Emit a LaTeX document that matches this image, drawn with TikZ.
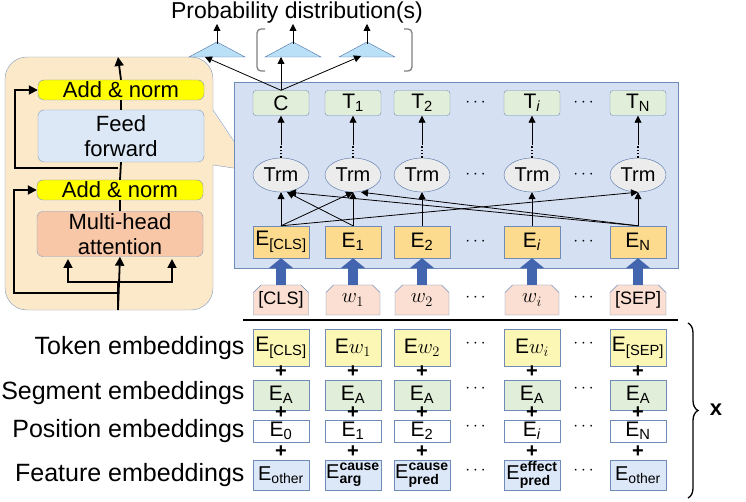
\documentclass[tikz,border=0pt]{standalone}
\usepackage{amsmath}
\usepackage{fontspec}
\setmainfont{Liberation Sans}
\usetikzlibrary{positioning,shapes.misc,shapes.geometric,arrows.meta,decorations.pathreplacing}
\definecolor{bgorange}{HTML}{FCE9C9}
\definecolor{bgblue}{HTML}{D6E0F3}
\definecolor{bord}{HTML}{4A6FA5}
\definecolor{ygreen}{HTML}{E1EED9}
\definecolor{eyel}{HTML}{FCDB8E}
\definecolor{tokc}{HTML}{FADFD2}
\definecolor{posc}{HTML}{FFFFFF}
\definecolor{featc}{HTML}{DCE8F7}
\definecolor{tokemb}{HTML}{FCF7B5}
\definecolor{tric}{HTML}{B9E0F7}
\definecolor{ffc}{HTML}{DCE8F6}
\definecolor{mhc}{HTML}{F7C7A8}
\definecolor{yel}{HTML}{FFFF00}
\tikzset{
  bx/.style={draw=bord!80, rectangle, minimum width=56pt, minimum height=30pt, inner sep=1pt, font=\fontsize{21}{23}\selectfont},
  tbox/.style={bx, rounded corners=3pt, fill=ygreen, minimum height=25pt},
  trm/.style={draw=bord, ellipse, fill=gray!15, minimum width=56pt, minimum height=34pt, inner sep=0pt, font=\fontsize{20}{22}\selectfont},
  ebox/.style={bx, fill=eyel, minimum height=32pt},
  tok/.style={draw=bord!80, chamfered rectangle, chamfered rectangle corners={north east,north west}, chamfered rectangle xsep=4pt, fill=tokc, minimum width=54pt, minimum height=30pt, inner sep=1pt, font=\fontsize{18}{20}\selectfont},
  lbl/.style={anchor=east, font=\fontsize{25}{27}\selectfont},
  plus/.style={font=\bfseries\fontsize{20}{20}\selectfont, inner sep=0pt},
  dts/.style={font=\fontsize{16}{16}\selectfont},
  lay/.style={draw=bord!70, rounded corners=6pt, minimum width=166pt, font=\fontsize{22}{25}\selectfont, align=center, inner sep=1pt},
  arr/.style={-{Triangle[length=7pt,width=7pt]}, line width=0.8pt},
  thk/.style={-{Triangle[length=9pt,width=9pt]}, line width=1.8pt},
  fat/.style={-{Triangle[length=10pt,width=24pt]}, line width=10pt, draw=bord!90!blue},
  ft/.style={bx, fill=featc, font=\fontsize{20}{22}\selectfont, inner sep=0pt},
}
\newcommand{\sub}[1]{\textsubscript{#1}}
\newcommand{\fe}[2]{E$^{\text{\bfseries #1}}_{\text{\bfseries #2}}$}
\begin{document}
\begin{tikzpicture}[x=1pt,y=-1pt]
        \useasboundingbox (0,0) rectangle (746,502);
        % transformer block
        \draw[bord!70, fill=bgorange, rounded corners=22pt] (5,57) rectangle (213,310);
        \fill[bgorange] (212,110) -- (254,171) -- (212,165) -- cycle;
        \draw[bord!70] (213,110) -- (254,171) -- (213,165);
        \node[lay, fill=yel, minimum height=20pt] (an1) at (121,90) {Add \& norm};
        \node[lay, fill=ffc, minimum height=52pt] (ff) at (121,136) {Feed\\forward};
        \node[lay, fill=yel, minimum height=20pt] (an2) at (120,190) {Add \& norm};
        \node[lay, fill=mhc, minimum height=45pt] (mh) at (120,234) {Multi-head\\attention};
        \coordinate (in) at (118,310);
        \coordinate (top) at (118,57);
        \draw[thk] (in) -- (118,282) -| (68,259);
        \draw[thk] (118,282) -| (172,259);
        \draw[thk] (in) -- (mh.south);
        \draw[thk] (118,293) -| (14,190) -- (an2.west);
        \draw[line width=1.8pt] (mh.north) -- (an2.south);
        \draw[line width=1.8pt] (an2.north) -- (ff.south);
        \draw[line width=1.8pt] (an1.south) -- (ff.north);
        \draw[thk] (118,168) -| (15,90) -- (an1.west);
        \draw[thk] (an1.north) -- (top);
        % BERT box
        \draw[bord!80, fill=bgblue] (234,82) rectangle (678,268);
        \node[tbox] (c) at (281,103) {C};
        \node[tbox] (t1) at (353,103) {T\sub{1}};
        \node[tbox] (t2) at (422,103) {T\sub{2}};
        \node[tbox] (ti) at (532,103) {T\sub{\textit{i}}};
        \node[tbox] (tn) at (638,103) {T\sub{N}};
        \foreach \n/\x in {c/281,t1/353,t2/422,ti/532,tn/638}{
          \node[trm] (r\n) at (\x,175) {Trm};
          \draw[arr] (\x,145) -- (\n.south);
          \draw[line width=1.4pt, dotted] (r\n.north) -- (\x,145);
        }
        \node[ebox] (ec) at (281,242) {E\sub{[CLS]}};
        \node[ebox] (e1) at (353,242) {E\sub{1}};
        \node[ebox] (e2) at (422,242) {E\sub{2}};
        \node[ebox] (ei) at (532,242) {E\sub{\textit{i}}};
        \node[ebox] (en) at (638,242) {E\sub{N}};
        \draw[arr] (ec.north) -- (rc.south);
        \draw[arr] (e1.north) -- (rt1.south);
        \draw[arr] (e2.north) -- (rt2.south);
        \draw[arr] (ei.north) -- (rti.south);
        \draw[arr] (en.north) -- (rtn.south);
        \draw[arr] (ec.north) -- (rt1.south);
        \draw[arr] (ec.north) -- (rtn.south);
        \draw[arr] (e1.north) -- ([xshift=6pt]rc.south);
        \draw[arr] (en.north) -- ([xshift=8pt]rc.south);
        \draw[arr] (en.north) -- ([xshift=8pt]rt1.south);
        \foreach \y in {103,175,242}{
          \node[dts] at (477,\y) {$\cdots$};
          \node[dts] at (585,\y) {$\cdots$};
        }
        % output heads
        \node[font=\fontsize{23}{25}\selectfont] (prob) at (297,13) {Probability distribution(s)};
        \foreach \n/\x in {a/217,b/293,d/367}{
          \coordinate (h\n) at (\x,44);
          \draw[bord, fill=tric] (\x-28,57) -- (\x,42) -- (\x+28,57) -- cycle;
          \draw[arr] (h\n) -- (\x,24);
        }
        \draw[arr] (c.north) -- (205,57);
        \draw[arr] (c.north) -- (281,57);
        \draw[arr] (c.north) -- (361,56);
        \draw[gray, line width=1.3pt, rounded corners=4pt] (265,29) -- (257,29) -- (257,71) -- (265,71);
        \draw[gray, line width=1.3pt, rounded corners=4pt] (404,29) -- (412,29) -- (412,71) -- (404,71);
        % input tokens
        \node[tok] (kc) at (281,300) {[CLS]};
        \node[tok, font=\fontsize{21}{23}\selectfont] (k1) at (353,300) {$w_1$};
        \node[tok, font=\fontsize{21}{23}\selectfont] (k2) at (422,300) {$w_2$};
        \node[tok, font=\fontsize{21}{23}\selectfont] (ki) at (532,300) {$w_i$};
        \node[tok] (kn) at (638,300) {[SEP]};
        \foreach \a/\b in {kc/ec,k1/e1,k2/e2,ki/ei,kn/en}
          \draw[fat] (\a.north) -- (\b.south);
        \node[dts] at (477,298) {$\cdots$};
        \node[dts] at (585,298) {$\cdots$};
        \draw[line width=1.5pt] (243,320) -- (678,320);
        % embeddings
        \foreach \y/\lab in {348/Token embeddings,393/Segment embeddings,431/Position embeddings,475/Feature embeddings}
          \node[lbl] at (248,\y) {\lab};
        \node[bx, fill=tokemb, minimum height=37pt] (tc) at (281,348) {E\sub{[CLS]}};
        \node[bx, fill=tokemb, minimum height=37pt] (tw1) at (353,348) {E$w_1$};
        \node[bx, fill=tokemb, minimum height=37pt] (tw2) at (422,348) {E$w_2$};
        \node[bx, fill=tokemb, minimum height=37pt] (twi) at (532,348) {E$w_i$};
        \node[bx, fill=tokemb, minimum height=37pt] (tsep) at (638,348) {E\sub{[SEP]}};
        \foreach \x/\n in {281/a,353/b,422/c,532/d,638/e}{
          \node[bx, fill=ygreen] (s\n) at (\x,395) {E\sub{A}};
          \node[plus] at (\x,372) {+};
          \node[plus] at (\x,413) {+};
          \node[plus] at (\x,452) {+};
        }
        \node[bx, minimum height=22pt, fill=posc] (pa) at (281,431) {E\sub{0}};
        \node[bx, minimum height=22pt, fill=posc] (pb) at (353,431) {E\sub{1}};
        \node[bx, minimum height=22pt, fill=posc] (pc) at (422,431) {E\sub{2}};
        \node[bx, minimum height=22pt, fill=posc] (pd) at (532,431) {E\sub{\textit{i}}};
        \node[bx, minimum height=22pt, fill=posc] (pe) at (638,431) {E\sub{N}};
        \node[ft] (fa) at (281,475) {E\sub{other}};
        \node[ft] (fb) at (353,475) {\fe{cause}{arg}};
        \node[ft] (fc) at (422,475) {\fe{cause}{pred}};
        \node[ft] (fd) at (532,475) {\fe{effect}{pred}};
        \node[ft] (fe) at (638,475) {E\sub{other}};
        \foreach \y in {348,393,431,475}{
          \node[dts] at (477,\y-4) {$\cdots$};
          \node[dts] at (585,\y-4) {$\cdots$};
        }
        \draw[decorate, decoration={brace, amplitude=10pt}, line width=1.3pt] (688,323) -- (688,498);
        \node[font=\fontsize{22}{24}\selectfont] (xx) at (716,410) {$\mathbf{x}$};
\end{tikzpicture}
\end{document}
